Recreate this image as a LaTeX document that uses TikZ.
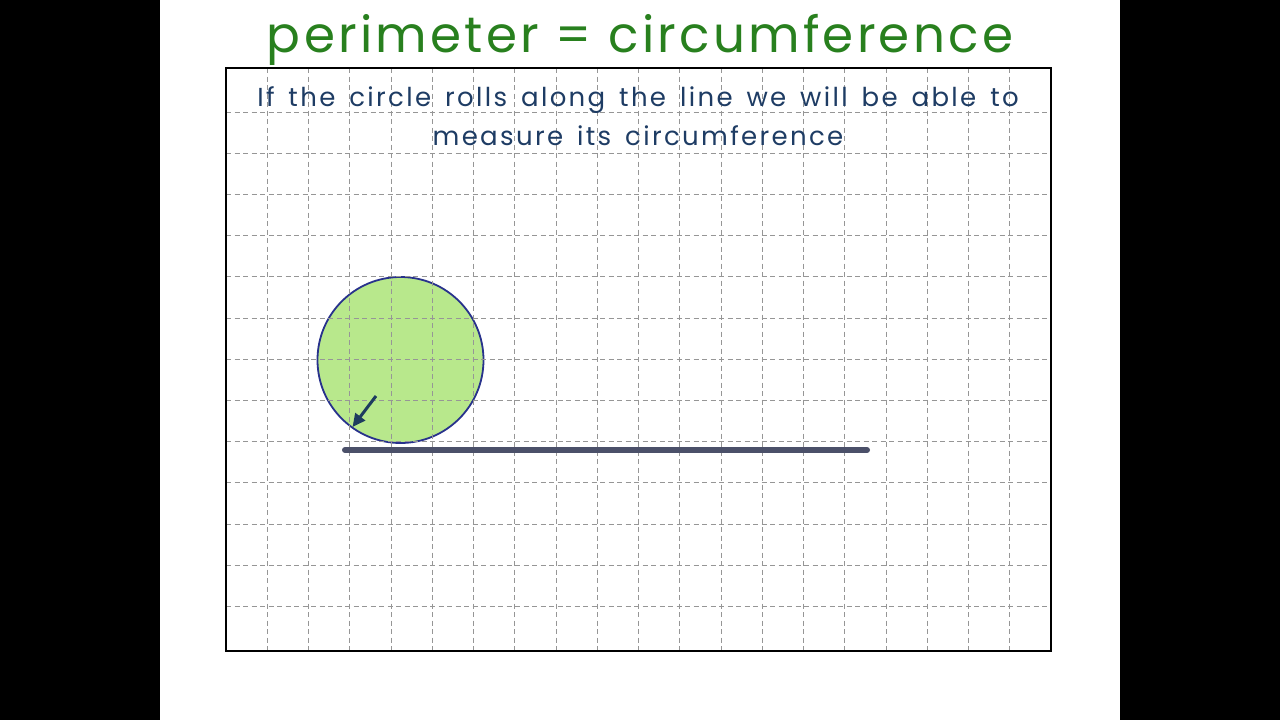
\documentclass[tikz,border=0pt]{standalone}
\usepackage{fontspec}
\setmainfont{Poppins}
\newfontfamily\titlefont[LetterSpace=6.5]{Poppins}
\newfontfamily\bodyfont[LetterSpace=9,WordSpace=1.5]{Poppins}
\usetikzlibrary{arrows.meta}
\definecolor{titlegreen}{RGB}{40,128,30}
\definecolor{textblue}{RGB}{30,60,100}
\definecolor{gridgray}{RGB}{150,150,150}
\definecolor{circfill}{RGB}{184,232,140}
\definecolor{circline}{RGB}{40,50,140}
\definecolor{rulecol}{RGB}{75,80,105}
\definecolor{arrowcol}{RGB}{30,60,95}
\tikzset{
  gridline/.style={draw=gridgray, line width=0.8pt, dash pattern=on 5pt off 3.5pt},
  titletext/.style={text=titlegreen, font=\titlefont\fontsize{50}{56}\selectfont},
  bodytext/.style={text=textblue, font=\bodyfont\fontsize{26}{39}\selectfont, align=center},
}
\begin{document}
\begin{tikzpicture}[x=1pt,y=-1pt]
\useasboundingbox (0,0) rectangle (1280,720);
\fill[black] (0,0) rectangle (160,720);
\fill[black] (1120,0) rectangle (1280,720);
\fill[white] (160,0) rectangle (1120,720);
\node[circle, draw=circline, fill=circfill, line width=1.8pt, minimum size=166pt, inner sep=0pt] (circ) at (400.5,360) {};
% grid
\foreach \k in {1,...,19} {
  \draw[gridline] ({226+41.25*\k},68) -- ({226+41.25*\k},651);
}
\foreach \k in {0,...,12} {
  \draw[gridline] (226,{112+41.2*\k}) -- (1051,{112+41.2*\k});
}
\draw[black, line width=1.3pt] (226,68) rectangle (1051,651);
\node[titletext] (title) at (640,40) {perimeter = circumference};
\node[bodytext] (body) at (638,116) {If the circle rolls along the line we will be able to\\measure its circumference};
\coordinate (ls) at (345,450);
\coordinate (le) at (867,450);
\draw[rulecol, line width=6pt, line cap=round] (ls) -- (le);
\coordinate (as) at (376,396);
\coordinate (ae) at (352.5,427);
\draw[arrowcol, line width=3pt, -{Triangle[length=13pt,width=12pt]}] (as) -- (ae);
\end{tikzpicture}
\end{document}
